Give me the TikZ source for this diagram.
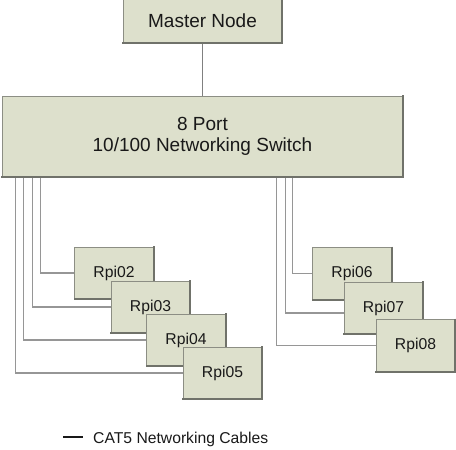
\documentclass[tikz,border=0pt]{standalone}
\usepackage{fontspec}
\setmainfont{Liberation Sans}
\usetikzlibrary{backgrounds}
\definecolor{boxfill}{RGB}{221,224,204}
\definecolor{boxline}{RGB}{140,142,132}
\definecolor{boxshade}{RGB}{112,114,106}
\definecolor{cablecol}{RGB}{150,150,150}
\definecolor{txt}{RGB}{25,25,25}
\tikzset{
  box/.style={draw=boxline, fill=boxfill, line width=0.8pt, inner sep=0pt, text=txt},
  rpibox/.style={box, minimum width=79pt, minimum height=52pt, font=\fontsize{15.7}{18}\selectfont},
  shadeedge/.style={draw=boxshade, line width=2pt},
  cable/.style={draw=cablecol, line width=1.6pt},
  uplink/.style={draw=cablecol!85!black, line width=1pt},
  legendline/.style={draw=txt, line width=1.3pt},
}
\newcommand\shadeof[1]{\draw[shadeedge] ([yshift=0.6pt]#1.north east) -- (#1.south east) -- ([xshift=-0.6pt]#1.south west);}
\begin{document}
\begin{tikzpicture}[x=1pt,y=-1pt]
\useasboundingbox (0,0) rectangle (456,450);
% master and switch
\node[box, minimum width=159pt, minimum height=44pt, font=\fontsize{19}{21}\selectfont] (m) at (202.5,20.5) {Master Node};
\shadeof{m}
\node[box, minimum width=401pt, minimum height=81pt, align=center, font=\fontsize{19}{21}\selectfont] (sw) at (202.5,136.5) {8 Port\\10/100 Networking Switch};
\shadeof{sw}
% Raspberry Pi boxes, each with its shaded edge
\node[rpibox] (r02) at (114,273)     {Rpi02}; \shadeof{r02}
\node[rpibox] (r03) at (150.5,307)   {Rpi03}; \shadeof{r03}
\node[rpibox] (r04) at (186,340)     {Rpi04}; \shadeof{r04}
\node[rpibox] (r05) at (222.5,373)   {Rpi05}; \shadeof{r05}
\node[rpibox] (r06) at (352,273.5)   {Rpi06}; \shadeof{r06}
\node[rpibox] (r07) at (383.5,308)   {Rpi07}; \shadeof{r07}
\node[rpibox] (r08) at (415.5,345.5) {Rpi08}; \shadeof{r08}
% connectors, behind the boxes
\begin{scope}[on background layer]
\draw[uplink] (m) -- (sw);
\draw[cable] ([xshift=39pt]sw.south west) |- (r02.west);
\draw[cable] ([xshift=31pt]sw.south west) |- (r03.west);
\draw[cable] ([xshift=22pt]sw.south west) |- (r04.west);
\draw[cable] ([xshift=14pt]sw.south west) |- (r05.west);
\draw[cable] ([xshift=291pt]sw.south west) |- (r06.west);
\draw[cable] ([xshift=284pt]sw.south west) |- ([yshift=-5pt]r07.west);
\draw[cable] ([xshift=275pt]sw.south west) |- (r08.west);
\end{scope}
% legend
\coordinate (l1) at (63,437);
\coordinate (l2) at (83,437);
\draw[legendline] (l1) -- (l2);
\node[anchor=base west, inner sep=0pt, text=txt, font=\fontsize{15.7}{18}\selectfont] (leg) at (93,443) {CAT5 Networking Cables};
\end{tikzpicture}
\end{document}
